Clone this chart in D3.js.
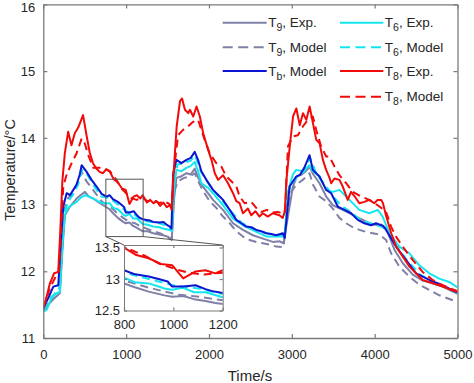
<!DOCTYPE html>
<html><head><meta charset="utf-8">
<script src="https://cdn.jsdelivr.net/npm/d3@7"></script>
<style>body{margin:0;background:#fff}svg{display:block}text{font-family:Arial,"Liberation Sans",sans-serif}</style>
</head><body>
<svg id="c" width="474" height="383"></svg>
<script>
// ---------------- data ----------------
const xTicks = [0,1000,2000,3000,4000,5000];
const yTicks = [11,12,13,14,15,16];
const insetXTicks = [800,1000,1200];
const insetYTicks = [12.5,13,13.5];

const t8ExpTime = [0,40,80,130,180,205,230,260,300,340,380,420,480,520,560,600,640,680,720,760,800,850,900,950,995,1040,1090,1130,1170,1200,1250,1290,1330,1370,1410,1450,1490,1530,1550,1570,1610,1650,1675,1710,1750,1770,1810,1850,1890,1930,1990,2030,2070,2110,2170,2230,2290,2330,2370,2410,2470,2510,2560,2610,2650,2710,2770,2850,2890,2915,2935,2975,3015,3055,3095,3135,3175,3215,3255,3295,3335,3375,3415,3455,3475,3515,3575,3615,3675,3715,3760,3815,3875,3935,3995,4035,4080,4100,4140,4200,4260,4340,4420,4500,4580,4700,4820,5000];
const t8Exp = [11.44,11.62,11.82,11.97,11.99,12.6,13.35,13.77,14.09,13.89,14.07,14.15,14.34,14.05,13.78,13.62,13.54,13.49,13.47,13.53,13.5,13.38,13.33,13.24,13.22,13.01,13.12,13.14,13.09,13.14,13.03,13.07,13.02,13.05,12.98,13.03,12.96,12.99,12.92,13.42,14.17,14.55,14.59,14.42,14.37,14.42,14.32,14.47,14.32,14.07,13.82,13.67,13.47,13.37,13.44,13.32,13.17,13.05,13.02,12.87,12.94,12.84,12.9,12.82,12.87,12.82,12.87,12.84,12.8,12.89,13.37,13.87,14.32,14.44,14.19,14.37,14.27,14.47,14.22,13.97,13.92,13.67,13.52,13.4,13.32,13.39,13.37,13.27,13.07,13.19,13.12,13.02,13.04,13.07,13.02,13.07,13.07,13.02,12.82,12.57,12.37,12.22,12.07,11.97,11.87,11.82,11.77,11.69];

const t8ModelTime = [0,80,150,190,215,241,282,342,402,463,500,543,603,683,764,804,884,944,1024,1060,1125,1200,1260,1326,1400,1450,1507,1550,1575,1627,1687,1747,1808,1868,1908,1948,2009,2089,2149,2209,2270,2330,2370,2430,2511,2570,2631,2700,2770,2832,2900,2920,2953,3013,3073,3133,3194,3254,3294,3354,3415,3455,3515,3575,3656,3736,3836,3936,4037,4138,4198,4258,4338,4459,4579,4700,4820,5000];
const t8Model = [11.44,11.75,11.92,12.0,12.6,13.27,13.45,13.62,13.77,13.99,13.92,13.74,13.55,13.55,13.52,13.5,13.37,13.24,13.14,13.1,13.07,13.1,13.05,13.07,13.02,13.05,13.02,12.98,13.5,14.04,14.12,14.17,14.24,14.27,14.12,13.97,13.77,13.62,13.57,13.42,13.35,13.27,13.12,13.02,13.04,12.95,12.89,12.92,12.88,12.89,12.86,12.92,13.87,14.02,14.04,14.17,14.27,14.32,14.12,13.87,13.72,13.72,13.57,13.44,13.32,13.19,13.12,13.07,12.99,12.89,12.67,12.52,12.37,12.17,11.99,11.87,11.79,11.7];

const tbModelTime = [0,60,121,181,209,241,282,322,362,402,440,463,523,583,643,704,764,800,840,900,940,977,995,1040,1090,1130,1165,1200,1246,1290,1326,1400,1450,1487,1527,1547,1567,1607,1667,1728,1780,1828,1868,1908,1969,2049,2129,2169,2250,2330,2390,2451,2511,2571,2631,2692,2750,2812,2892,2915,2973,3053,3100,3150,3214,3254,3334,3415,3475,3555,3636,3716,3796,3876,3956,4016,4060,4100,4138,4258,4378,4499,4660,4820,5000];
const tbModel = [11.44,11.6,11.77,11.79,12.37,12.97,13.17,13.14,13.22,13.3,13.45,13.59,13.49,13.37,13.27,13.16,13.12,13.14,13.08,13.04,13.0,12.96,12.88,12.88,12.9,12.84,12.8,12.78,12.77,12.76,12.74,12.73,12.74,12.7,12.67,12.64,13.45,13.67,13.62,13.67,13.7,13.79,13.67,13.5,13.37,13.22,13.12,13.07,12.92,12.77,12.72,12.67,12.66,12.62,12.6,12.57,12.56,12.54,12.57,12.5,13.27,13.42,13.45,13.55,13.74,13.52,13.42,13.22,13.17,12.97,12.92,12.87,12.77,12.72,12.69,12.72,12.7,12.68,12.62,12.37,12.17,11.97,11.87,11.79,11.68];

const t6ExpTime = [0,40,100,160,201,230,261,300,350,402,450,503,550,603,660,723,800,844,900,940,964,995,1040,1084,1130,1165,1200,1246,1326,1400,1446,1527,1550,1580,1607,1667,1728,1780,1828,1868,1908,1990,2049,2169,2290,2410,2571,2700,2812,2892,2915,2953,3013,3053,3133,3214,3254,3334,3415,3495,3575,3696,3816,3936,4037,4097,4178,4298,4419,4539,4660,4780,4900,5000];
const t6Exp = [11.4,11.42,11.6,11.67,11.69,12.4,12.85,12.95,13.0,13.04,13.1,13.14,13.12,13.09,13.05,13.02,13.02,12.95,12.93,12.88,12.85,12.83,12.86,12.79,12.79,12.75,12.71,12.7,12.67,12.66,12.64,12.62,12.6,13.3,13.52,13.5,13.55,13.58,13.64,13.5,13.32,13.25,13.17,12.99,12.79,12.69,12.59,12.52,12.52,12.52,12.55,13.2,13.45,13.52,13.5,13.59,13.5,13.42,13.22,13.19,13.22,13.07,12.92,12.87,12.92,12.82,12.57,12.37,12.27,12.09,11.97,11.89,11.84,11.76];

const t6ModelTime = [0,100,190,215,250,300,360,420,470,530,600,700,800,900,1000,1100,1200,1300,1400,1500,1550,1580,1620,1700,1780,1830,1900,2000,2100,2200,2300,2400,2500,2600,2700,2800,2910,2960,3050,3150,3220,3300,3400,3500,3600,3700,3800,3900,4000,4100,4150,4250,4400,4550,4700,4850,5000];
const t6Model = [11.42,11.62,11.72,12.2,12.85,13.05,13.15,13.3,13.52,13.45,13.3,13.12,13.1,13.0,12.9,12.85,12.76,12.74,12.72,12.68,12.62,13.35,13.6,13.62,13.66,13.74,13.5,13.3,13.15,13.0,12.85,12.72,12.66,12.6,12.57,12.54,12.52,13.2,13.4,13.5,13.7,13.45,13.3,13.12,12.98,12.9,12.8,12.74,12.7,12.66,12.6,12.4,12.15,11.95,11.84,11.76,11.67];

const t9ExpTime = [0,60,120,200,230,261,322,402,460,503,550,603,660,723,800,844,900,964,995,1040,1084,1130,1170,1205,1260,1326,1400,1446,1500,1527,1550,1580,1607,1660,1728,1780,1828,1870,1928,2049,2169,2290,2410,2531,2651,2772,2850,2900,2953,3013,3060,3120,3170,3214,3260,3334,3415,3495,3615,3776,3936,4030,4080,4140,4240,4340,4460,4580,4700,4820,5000];
const t9Exp = [11.4,11.5,11.58,11.67,12.3,12.84,12.97,13.09,13.15,13.19,13.12,13.09,13.04,12.99,12.93,12.87,12.8,12.74,12.72,12.73,12.68,12.65,12.62,12.6,12.6,12.57,12.55,12.54,12.52,12.49,12.47,13.1,13.4,13.42,13.47,13.45,13.54,13.4,13.27,13.07,12.92,12.72,12.62,12.54,12.49,12.44,12.45,12.42,12.82,13.27,13.42,13.45,13.5,13.57,13.45,13.32,13.12,12.99,12.92,12.82,12.72,12.69,12.7,12.64,12.32,12.12,11.95,11.86,11.82,11.77,11.66];

const t9ModelTime = [0,80,160,200,230,261,300,350,402,463,520,583,643,704,764,824,884,944,1024,1105,1165,1246,1326,1407,1487,1550,1580,1627,1700,1770,1828,1870,1930,2009,2089,2169,2250,2330,2410,2490,2571,2652,2732,2812,2900,2935,2973,3053,3133,3214,3254,3334,3415,3495,3575,3656,3736,3816,3896,3976,4057,4138,4198,4298,4419,4539,4660,4780,5000];
const t9Model = [11.42,11.55,11.7,11.75,12.4,12.95,13.1,13.15,13.3,13.49,13.35,13.25,13.15,13.05,13.0,12.95,12.88,12.82,12.75,12.72,12.68,12.64,12.6,12.57,12.52,12.48,13.2,13.35,13.4,13.42,13.47,13.35,13.2,13.05,12.95,12.82,12.72,12.6,12.52,12.47,12.44,12.42,12.4,12.37,12.36,12.8,13.15,13.3,13.37,13.47,13.3,13.12,13.05,12.94,12.8,12.72,12.66,12.62,12.59,12.57,12.55,12.47,12.27,12.07,11.92,11.8,11.72,11.64,11.54];

// ---------------- series table ----------------
const GREY = "#7f80a6", BLUE = "#0a14d2", CYAN = "#14e6f0", RED = "#f20a0a";
const series = [
  {sub:"9", txt:", Exp.",   color:GREY, dash:null,  t:t9ExpTime,   v:t9Exp},
  {sub:"9", txt:", Model",  color:GREY, dash:"8,5", t:t9ModelTime, v:t9Model},
  {sub:"6", txt:", Exp.",   color:CYAN, dash:null,  t:t6ExpTime,   v:t6Exp},
  {sub:"6", txt:", Model",  color:CYAN, dash:"8,5", t:t6ModelTime, v:t6Model},
  {sub:"b", txt:", Model",  color:BLUE, dash:null,  t:tbModelTime, v:tbModel},
  {sub:"8", txt:", Exp.",   color:RED,  dash:null,  t:t8ExpTime,   v:t8Exp},
  {sub:"8", txt:", Model",  color:RED,  dash:"8,5", t:t8ModelTime, v:t8Model}
];
const drawOrder = [1,0,3,2,4,6,5];
const legendLayout = [[0,0,0],[1,0,1],[4,0,2],[2,1,0],[3,1,1],[5,1,2],[6,1,3]];

// ---------------- chart ----------------
const svg = d3.select("#c");
const AX = "#7a7a7a", TX = "#262626";
const xS = d3.scaleLinear().domain([0,5000]).range([43.3,457.5]);
const yS = d3.scaleLinear().domain([11,16]).range([338,4.4]);
const defs = svg.append("defs");
defs.append("clipPath").attr("id","mainClip")
  .append("rect").attr("x",43.3).attr("y",4.4).attr("width",414.2).attr("height",333.6);

function drawLines(g, xs, ys, sw){
  drawOrder.forEach(i=>{
    const s = series[i];
    const pts = s.t.map((tt,k)=>[tt,s.v[k]]);
    g.append("path").datum(pts)
      .attr("fill","none").attr("stroke",s.color).attr("stroke-width",sw)
      .attr("stroke-linejoin","round")
      .attr("stroke-dasharray",s.dash)
      .attr("d",d3.line().x(d=>xs(d[0])).y(d=>ys(d[1])));
  });
}

const mainG = svg.append("g").attr("clip-path","url(#mainClip)");
drawLines(mainG, xS, yS, 2);

function styleAxis(g){
  g.selectAll("path.domain").attr("stroke",AX).attr("stroke-width",1.3);
  g.selectAll(".tick line").attr("stroke",AX).attr("stroke-width",1.2);
  g.selectAll(".tick text").attr("fill",TX).style("font-size","13px").style("font-family",'Arial,"Liberation Sans",sans-serif');
}
const axB = svg.append("g").attr("transform","translate(0,338)")
  .call(d3.axisBottom(xS).tickValues(xTicks).tickSizeInner(-4).tickSizeOuter(0).tickFormat(d3.format("d")));
styleAxis(axB);
axB.selectAll(".tick text").attr("y",12);
const axT = svg.append("g").attr("transform","translate(0,4.4)")
  .call(d3.axisTop(xS).tickValues(xTicks).tickSizeInner(-4).tickSizeOuter(0).tickFormat(""));
styleAxis(axT);
const axL = svg.append("g").attr("transform","translate(43.3,0)")
  .call(d3.axisLeft(yS).tickValues(yTicks).tickSizeInner(-4).tickSizeOuter(0).tickFormat(d3.format("d")));
styleAxis(axL);
axL.selectAll(".tick text").attr("x",-8).attr("y",d=>d===16?2.5:0);
const axR = svg.append("g").attr("transform","translate(457.5,0)")
  .call(d3.axisRight(yS).tickValues(yTicks).tickSizeInner(-4).tickSizeOuter(0).tickFormat(""));
styleAxis(axR);

svg.append("text").attr("x",250).attr("y",381).attr("text-anchor","middle")
  .attr("fill",TX).style("font-size","15px").text("Time/s");
svg.append("text").attr("transform","translate(14.5,170) rotate(-90)").attr("text-anchor","middle")
  .attr("fill",TX).style("font-size","14.5px").text("Temperature/°C");

// zoom rectangle
const zx0 = 755, zx1 = 1205, zy0 = 12.52, zy1 = 13.38;
svg.append("rect").attr("x",xS(zx0)).attr("y",yS(zy1)).attr("width",xS(zx1)-xS(zx0)).attr("height",yS(zy0)-yS(zy1))
  .attr("fill","none").attr("stroke","#555").attr("stroke-width",1);

// inset
const ix = d3.scaleLinear().domain([800,1200]).range([124,222.7]);
const iy = d3.scaleLinear().domain([12.5,13.54]).range([310.5,245]);
svg.append("line").attr("x1",xS(zx0)).attr("y1",yS(zy0)).attr("x2",124).attr("y2",245).attr("stroke","#555").attr("stroke-width",1);
svg.append("line").attr("x1",xS(zx1)).attr("y1",yS(zy0)).attr("x2",222.7).attr("y2",245).attr("stroke","#555").attr("stroke-width",1);
svg.append("rect").attr("x",124).attr("y",245).attr("width",98.7).attr("height",65.5).attr("fill","#fff");
defs.append("clipPath").attr("id","insetClip")
  .append("rect").attr("x",124).attr("y",245).attr("width",98.7).attr("height",65.5);
const insG = svg.append("g").attr("clip-path","url(#insetClip)");
drawLines(insG, ix, iy, 2);
const ib = svg.append("g").attr("transform","translate(0,310.5)")
  .call(d3.axisBottom(ix).tickValues(insetXTicks).tickSizeInner(-3).tickSizeOuter(0).tickFormat(d3.format("d")));
styleAxis(ib); ib.selectAll(".tick text").attr("y",9);
const it = svg.append("g").attr("transform","translate(0,245)")
  .call(d3.axisTop(ix).tickValues(insetXTicks).tickSizeInner(-3).tickSizeOuter(0).tickFormat(""));
styleAxis(it);
const il = svg.append("g").attr("transform","translate(124,0)")
  .call(d3.axisLeft(iy).tickValues(insetYTicks).tickSizeInner(-3).tickSizeOuter(0).tickFormat(d=>d));
styleAxis(il); il.selectAll(".tick text").attr("x",-4);
const ir = svg.append("g").attr("transform","translate(222.7,0)")
  .call(d3.axisRight(iy).tickValues(insetYTicks).tickSizeInner(-3).tickSizeOuter(0).tickFormat(""));
styleAxis(ir);
[ib,it,il,ir].forEach(g=>g.selectAll("path.domain").attr("stroke-width",1));

// legend
const colX = [[222.7,266.7],[340,383.3]];
const rowY = [22.7,47.3,71,96.7];
const leg = svg.append("g");
legendLayout.forEach(([si,c,r])=>{
  const s = series[si];
  leg.append("line").attr("x1",colX[c][0]).attr("x2",colX[c][1]).attr("y1",rowY[r]).attr("y2",rowY[r])
    .attr("stroke",s.color).attr("stroke-width",2).attr("stroke-dasharray",s.dash ? "10,5.5" : null);
  const t = leg.append("text").attr("x",colX[c][1]+1.5).attr("y",rowY[r]+4.5)
    .attr("fill",TX).style("font-size","13.5px");
  t.append("tspan").text("T");
  t.append("tspan").attr("dy",4).style("font-size","10.5px").text(s.sub);
  t.append("tspan").attr("dy",-4).text(s.txt);
});
</script>
</body></html>
